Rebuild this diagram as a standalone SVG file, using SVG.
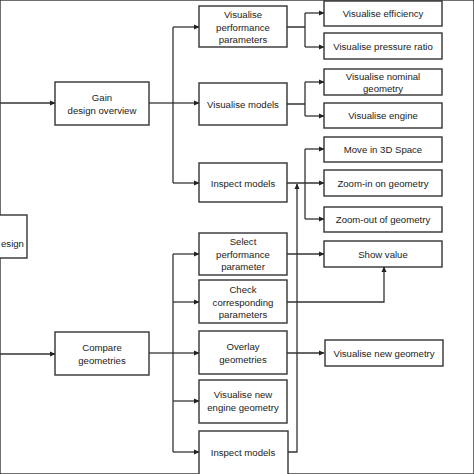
<svg xmlns="http://www.w3.org/2000/svg" width="474" height="474" viewBox="0 0 474 474">
<style>
rect{fill:#fff;stroke:#333;stroke-width:1.4}
text{font-family:"Liberation Sans",Arial,sans-serif;font-size:9.6px;fill:#222;text-anchor:middle}
.c path{fill:none;stroke:#333;stroke-width:1.3}
</style>
<defs>
<marker id="a" markerWidth="6" markerHeight="6" refX="5" refY="3" orient="auto" markerUnits="userSpaceOnUse">
<path d="M0,0.5 L5.5,3 L0,5.5 Z" fill="#222"/>
</marker>
</defs>
<rect width="474" height="474" fill="#fff" stroke="none"/>
<g class="c">
<path d="M0,103 H55" marker-end="url(#a)"/>
<path d="M0,354 H55" marker-end="url(#a)"/>
<path d="M149,103 H173"/>
<path d="M173,27 V183"/>
<path d="M173,27 H199" marker-end="url(#a)"/>
<path d="M173,103 H199" marker-end="url(#a)"/>
<path d="M173,183 H199" marker-end="url(#a)"/>
<path d="M149,353 H173"/>
<path d="M173,254 V452"/>
<path d="M173,254 H199" marker-end="url(#a)"/>
<path d="M173,302 H199" marker-end="url(#a)"/>
<path d="M173,353 H199" marker-end="url(#a)"/>
<path d="M173,401 H199" marker-end="url(#a)"/>
<path d="M173,452 H199" marker-end="url(#a)"/>
<path d="M287,27 H305 M305,13 V47"/>
<path d="M305,13 H324" marker-end="url(#a)"/>
<path d="M305,47 H324" marker-end="url(#a)"/>
<path d="M287,104 H305 M305,82 V116"/>
<path d="M305,82 H324" marker-end="url(#a)"/>
<path d="M305,116 H324" marker-end="url(#a)"/>
<path d="M287,183 H324" marker-end="url(#a)"/>
<path d="M305,149 V219"/>
<path d="M305,149 H324" marker-end="url(#a)"/>
<path d="M305,219 H324" marker-end="url(#a)"/>
<path d="M288,452 H297 V184" marker-end="url(#a)"/>
<path d="M287,254 H324" marker-end="url(#a)"/>
<path d="M287,302 H384 V267" marker-end="url(#a)"/>
<path d="M287,353 H324" marker-end="url(#a)"/>
</g>
<g id="n-design"><rect x="-5" y="215" width="32" height="43"/><text x="1" y="247" style="text-anchor:start">esign</text></g>
<g id="n-gain"><rect x="55" y="82" width="94" height="43"/><text x="102" y="101">Gain</text><text x="102" y="114">design overview</text></g>
<g id="n-compare"><rect x="55" y="332" width="94" height="43"/><text x="102" y="351">Compare</text><text x="102" y="364">geometries</text></g>
<g id="n-perf"><rect x="199" y="6" width="88" height="41"/><text x="243" y="18">Visualise</text><text x="243" y="30.5">performance</text><text x="243" y="43">parameters</text></g>
<g id="n-models"><rect x="199" y="83" width="88" height="42"/><text x="243" y="107.5">Visualise models</text></g>
<g id="n-inspect1"><rect x="199" y="163" width="88" height="39"/><text x="243" y="186.5">Inspect models</text></g>
<g id="n-select"><rect x="199" y="233" width="88" height="42"/><text x="243" y="245">Select</text><text x="243" y="257.5">performance</text><text x="243" y="270">parameter</text></g>
<g id="n-check"><rect x="199" y="280" width="88" height="43"/><text x="243" y="293">Check</text><text x="243" y="305.5">corresponding</text><text x="243" y="318">parameters</text></g>
<g id="n-overlay"><rect x="199" y="331" width="88" height="43"/><text x="243" y="350">Overlay</text><text x="243" y="363">geometries</text></g>
<g id="n-visnew"><rect x="199" y="380" width="88" height="43"/><text x="243" y="398">Visualise new</text><text x="243" y="411">engine geometry</text></g>
<g id="n-inspect2"><rect x="199" y="431" width="89" height="45"/><text x="243" y="456">Inspect models</text></g>
<g id="n-eff"><rect x="324" y="1" width="118" height="25"/><text x="383" y="17">Visualise efficiency</text></g>
<g id="n-press"><rect x="324" y="33" width="118" height="26"/><text x="383" y="49.5">Visualise pressure ratio</text></g>
<g id="n-nominal"><rect x="324" y="69" width="118" height="26"/><text x="383" y="79.5">Visualise nominal</text><text x="383" y="92">geometry</text></g>
<g id="n-engine"><rect x="324" y="103" width="118" height="25"/><text x="383" y="119">Visualise engine</text></g>
<g id="n-move"><rect x="324" y="137" width="118" height="25"/><text x="383" y="153">Move in 3D Space</text></g>
<g id="n-zoomin"><rect x="324" y="170" width="118" height="26"/><text x="383" y="186.5">Zoom-in on geometry</text></g>
<g id="n-zoomout"><rect x="324" y="207" width="118" height="25"/><text x="383" y="223">Zoom-out of geometry</text></g>
<g id="n-show"><rect x="324" y="241" width="118" height="26"/><text x="383" y="257.5">Show value</text></g>
<g id="n-visgeo"><rect x="325" y="340" width="118" height="26"/><text x="384" y="356.5">Visualise new geometry</text></g>
</svg>
